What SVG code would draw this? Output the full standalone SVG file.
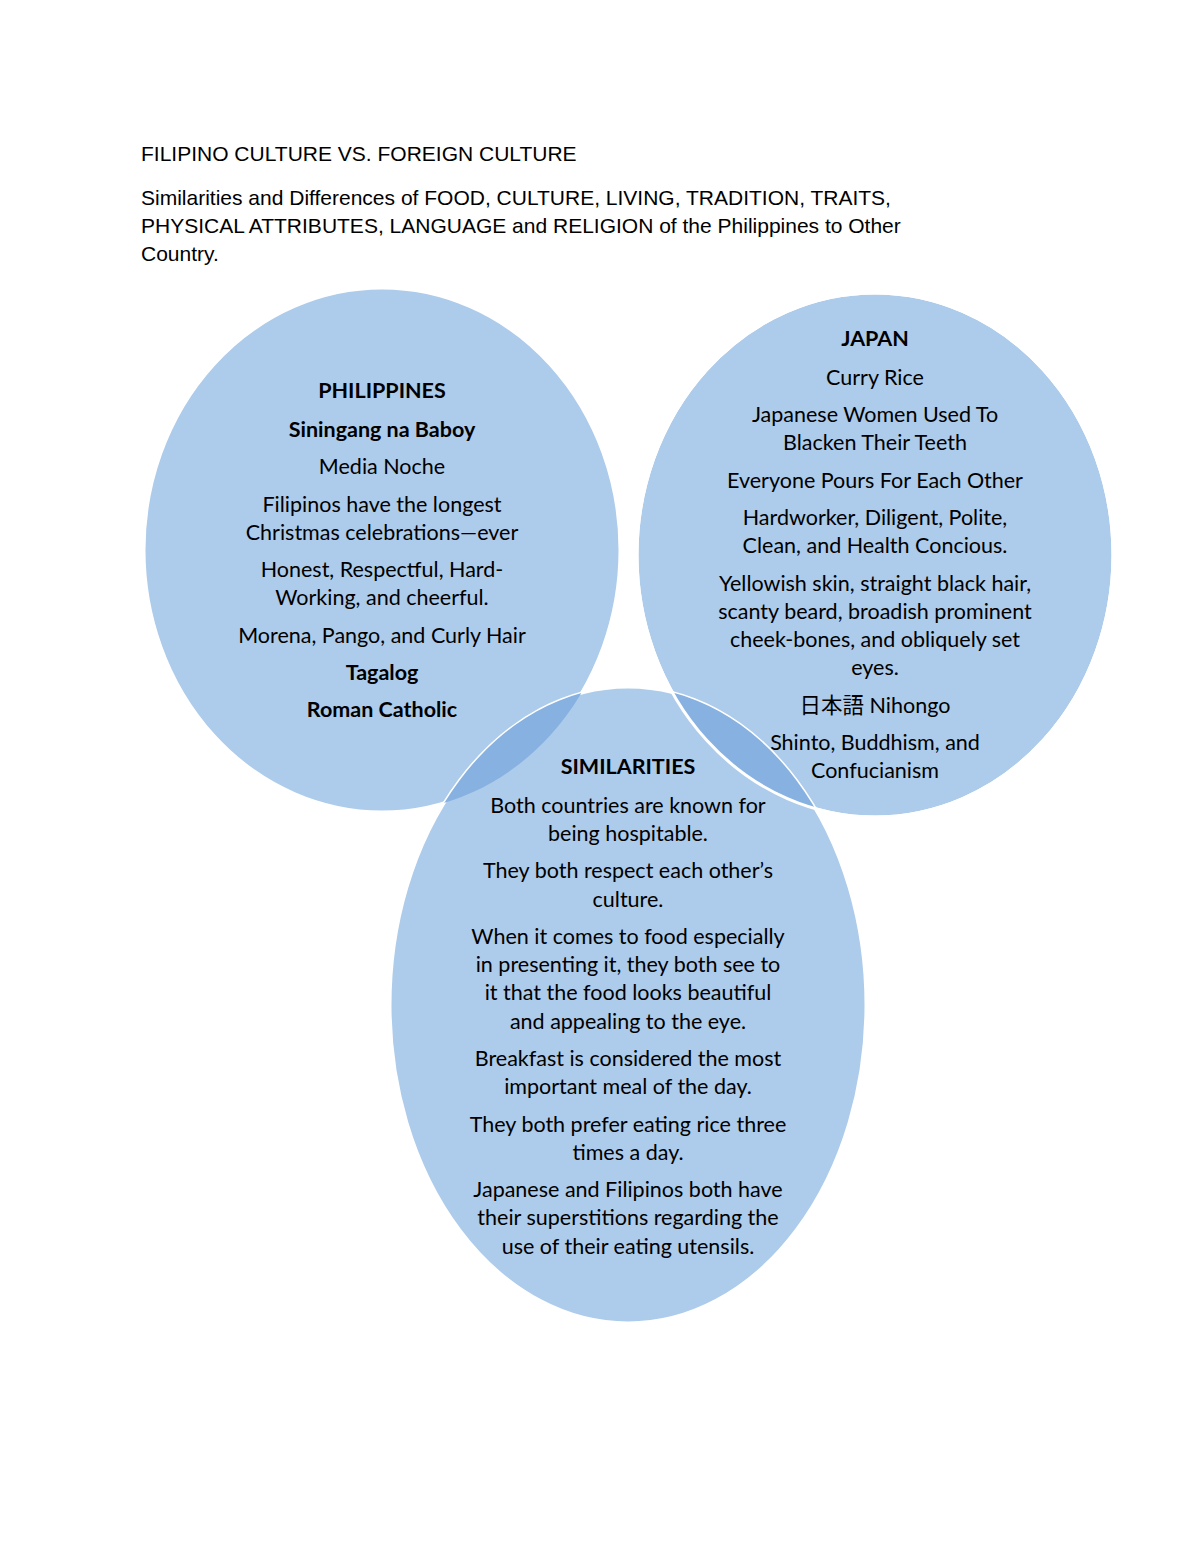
<svg xmlns="http://www.w3.org/2000/svg" width="1200" height="1553" viewBox="0 0 1200 1553">
<style>
.h{font-family:"Liberation Sans",Arial,sans-serif;font-size:21px;fill:#000}
.t{font-family:Lato,"Noto Sans CJK JP",sans-serif;font-size:21.5px;fill:#000;text-anchor:middle}
.b{font-weight:bold}
.c{fill:#adcbea;stroke:#fff;stroke-width:3}
.o{fill:#87b1e0}
</style>
<defs>
<clipPath id="cp"><ellipse cx="382" cy="550" rx="238" ry="262"/></clipPath>
<clipPath id="cj"><ellipse cx="875" cy="555" rx="238" ry="262"/></clipPath>
</defs>
<rect width="1200" height="1553" fill="#fff"/>
<text class="h" x="141" y="161">FILIPINO CULTURE VS. FOREIGN CULTURE</text>
<text class="h" x="141" y="205">Similarities and Differences of FOOD, CULTURE, LIVING, TRADITION, TRAITS,</text>
<text class="h" x="141" y="233">PHYSICAL ATTRIBUTES, LANGUAGE and RELIGION of the Philippines to Other</text>
<text class="h" x="141" y="261">Country.</text>
<g id="philippines"><ellipse class="c" cx="382" cy="550" rx="238" ry="262"/></g>
<g id="japan"><ellipse class="c" cx="875" cy="555" rx="238" ry="262"/></g>
<g id="similarities"><ellipse class="c" cx="628" cy="1005" rx="238" ry="318"/></g>
<g id="overlaps">
<ellipse class="o" cx="628" cy="1005" rx="238" ry="318" clip-path="url(#cp)"/>
<ellipse class="o" cx="628" cy="1005" rx="238" ry="318" clip-path="url(#cj)"/>
<ellipse cx="382" cy="550" rx="238" ry="262" fill="none" stroke="#fff" stroke-width="3" clip-path="url(#cj)"/>
<ellipse cx="875" cy="555" rx="238" ry="262" fill="none" stroke="#fff" stroke-width="3"/>
</g>
<g id="ph-text">
<text class="t b" x="382" y="398">PHILIPPINES</text>
<text class="t b" x="382" y="437">Siningang na Baboy</text>
<text class="t" x="382" y="474">Media Noche</text>
<text class="t" x="382" y="512">Filipinos have the longest</text>
<text class="t" x="382" y="540">Christmas celebrations—ever</text>
<text class="t" x="382" y="577">Honest, Respectful, Hard-</text>
<text class="t" x="382" y="605">Working, and cheerful.</text>
<text class="t" x="382" y="643">Morena, Pango, and Curly Hair</text>
<text class="t b" x="382" y="680">Tagalog</text>
<text class="t b" x="382" y="717">Roman Catholic</text>
</g>
<g id="jp-text">
<text class="t b" x="875" y="346">JAPAN</text>
<text class="t" x="875" y="385">Curry Rice</text>
<text class="t" x="875" y="422">Japanese Women Used To</text>
<text class="t" x="875" y="450">Blacken Their Teeth</text>
<text class="t" x="875" y="488">Everyone Pours For Each Other</text>
<text class="t" x="875" y="525">Hardworker, Diligent, Polite,</text>
<text class="t" x="875" y="553">Clean,  and Health Concious.</text>
<text class="t" x="875" y="591">Yellowish skin, straight black hair,</text>
<text class="t" x="875" y="619">scanty beard, broadish prominent</text>
<text class="t" x="875" y="647">cheek-bones, and obliquely set</text>
<text class="t" x="875" y="675">eyes.</text>
<text class="t" x="875" y="713">日本語 Nihongo</text>
<text class="t" x="875" y="750">Shinto, Buddhism, and</text>
<text class="t" x="875" y="778">Confucianism</text>
</g>
<g id="sim-text">
<text class="t b" x="628" y="774">SIMILARITIES</text>
<text class="t" x="628" y="813">Both countries are known for</text>
<text class="t" x="628" y="841">being hospitable.</text>
<text class="t" x="628" y="878">They both respect each other’s</text>
<text class="t" x="628" y="907">culture.</text>
<text class="t" x="628" y="944">When it comes to food especially</text>
<text class="t" x="628" y="972">in presenting it, they both see to</text>
<text class="t" x="628" y="1000">it that the food looks beautiful</text>
<text class="t" x="628" y="1029">and appealing to the eye.</text>
<text class="t" x="628" y="1066">Breakfast is considered the most</text>
<text class="t" x="628" y="1094">important meal of the day.</text>
<text class="t" x="628" y="1132">They both prefer eating rice three</text>
<text class="t" x="628" y="1160">times a day.</text>
<text class="t" x="628" y="1197">Japanese and Filipinos both have</text>
<text class="t" x="628" y="1225">their superstitions regarding the</text>
<text class="t" x="628" y="1254">use of their eating utensils.</text>
</g>
</svg>
